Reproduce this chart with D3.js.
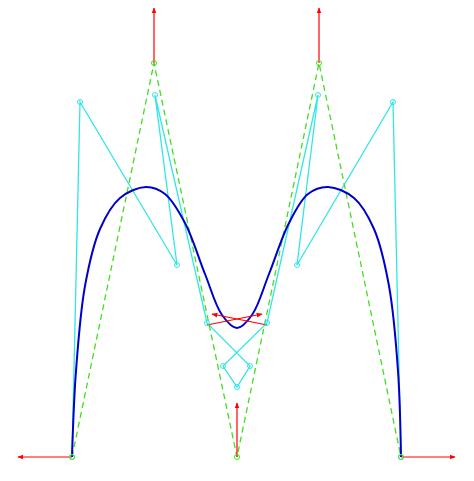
<!DOCTYPE html>
<html>
<head>
<meta charset="UTF-8">
<script src="https://d3js.org/d3.v7.min.js"></script>
<style>body{margin:0;background:#fff}</style>
</head>
<body>
<script>
// data in plot units (x right, y up)
const outerPts = [[72,24],[154,418],[237,24],[319,418],[401,24]];
const ctrlPts = [[72,24],[80,379],[177,216],[155,386],[207,158],[250,115],[237,94],[223,115],[267,158],[318,386],[297,216],[393,379],[401,24]];
const curvePts = [[72,24],[76,110],[85,195],[100,252],[120,283],[146,294],[165,287],[185,258],[205,207],[222,166],[237,153],[252,166],[269,207],[289,258],[308,287],[328,294],[354,283],[374,252],[389,195],[398,110],[401,24]];
const arrows = [[154,418,154,473],[319,418,319,473],[72,24,18,24],[401,24,455,24],[237,24,237,78],[207,156,262,167],[267,156,212,167]];

const W = 474, H = 481;
const x = d3.scaleLinear().domain([0, 474]).range([0, W]);
const y = d3.scaleLinear().domain([0, 481]).range([H, 0]);

const svg = d3.select("body").append("svg").attr("width", W).attr("height", H);
svg.append("defs").append("marker")
  .attr("id", "ah").attr("viewBox", "0 0 10 10").attr("refX", 9).attr("refY", 5)
  .attr("markerWidth", 5).attr("markerHeight", 5).attr("orient", "auto")
  .append("path").attr("d", "M0,1L10,5L0,9z").attr("fill", "red");

const line = d3.line().x(d => x(d[0])).y(d => y(d[1]));

svg.append("path").attr("d", line(ctrlPts)).attr("fill", "none").attr("stroke", "#33e6e6").attr("stroke-width", 1.3);
svg.append("path").attr("d", line(outerPts)).attr("fill", "none").attr("stroke", "#44dd22").attr("stroke-width", 1.3).attr("stroke-dasharray", "6,4");
svg.append("path").attr("d", line.curve(d3.curveCatmullRom)(curvePts)).attr("fill", "none").attr("stroke", "#0000cc").attr("stroke-width", 2);

svg.selectAll(".ar").data(arrows).join("line")
  .attr("x1", d => x(d[0])).attr("y1", d => y(d[1]))
  .attr("x2", d => x(d[2])).attr("y2", d => y(d[3]))
  .attr("stroke", "red").attr("stroke-width", 1.2).attr("marker-end", "url(#ah)");

svg.selectAll(".cp").data(ctrlPts).join("circle")
  .attr("cx", d => x(d[0])).attr("cy", d => y(d[1])).attr("r", 2.5)
  .attr("fill", "none").attr("stroke", "#33e6e6");
svg.selectAll(".op").data(outerPts).join("circle")
  .attr("cx", d => x(d[0])).attr("cy", d => y(d[1])).attr("r", 2.5)
  .attr("fill", "none").attr("stroke", "#44dd22");
</script>
</body>
</html>
